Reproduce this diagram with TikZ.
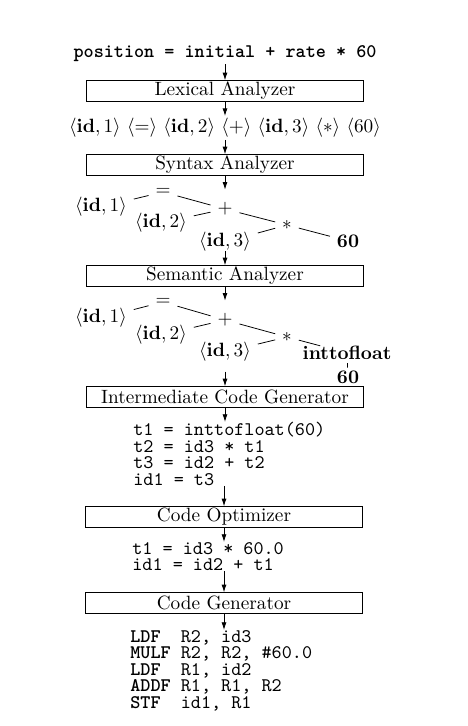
\documentclass[tikz,border=0pt]{standalone}
\usetikzlibrary{arrows.meta}

\tikzset{
  phase/.style={draw, line width=0.5pt, minimum width=144pt, minimum height=10.6pt, inner sep=0pt},
  arr/.style={-{Latex[length=4pt,width=2.6pt]}, line width=0.45pt},
  leaf/.style={inner sep=1.5pt},
  branch/.style={line width=0.4pt, shorten <=2pt, shorten >=2pt},
  code/.style={font=\ttfamily\fontsize{10}{8.6}\selectfont, align=left, anchor=north west, inner sep=0pt},
}
\newcommand{\tok}[1]{$\langle #1\rangle$}
\newcommand{\idn}[1]{$\langle\mathbf{id},#1\rangle$}

\begin{document}
\begin{tikzpicture}[x=0.52pt, y=-0.52pt]
    \useasboundingbox (0,0) rectangle (468,726);

    % Source statement
    \node (src) at (225,54) [font=\ttfamily\bfseries, inner sep=1pt] {position = initial + rate * 60};

    % Lexical analysis
    \node (lex) at (225,91) [phase] {Lexical Analyzer};
    \node (tokens) at (225,128) [inner sep=1pt] {\idn{1} \tok{=} \idn{2} \tok{+} \idn{3} \tok{\ast} \tok{60}};

    % Syntax analysis
    \node (syn) at (225,165) [phase] {Syntax Analyzer};
    \node (eqA) at (163,192) [leaf] {$=$};
    \node (idA1) at (101,207) [leaf] {\idn{1}};
    \node (plusA) at (225,209) [leaf] {$+$};
    \node (idA2) at (161,223) [leaf] {\idn{2}};
    \node (starA) at (287,225) [leaf] {$\ast$};
    \node (idA3) at (225,242) [leaf] {\idn{3}};
    \node (numA) at (348,241) [leaf] {$\mathbf{60}$};
    \draw[branch] (eqA) -- (idA1);
    \draw[branch] (eqA) -- (plusA);
    \draw[branch] (plusA) -- (idA2);
    \draw[branch] (plusA) -- (starA);
    \draw[branch] (starA) -- (idA3);
    \draw[branch] (starA) -- (numA);

    % Semantic analysis
    \node (sem) at (225,276) [phase] {Semantic Analyzer};
    \node (eqB) at (163,302) [leaf] {$=$};
    \node (idB1) at (101,318) [leaf] {\idn{1}};
    \node (plusB) at (225,320) [leaf] {$+$};
    \node (idB2) at (161,335) [leaf] {\idn{2}};
    \node (starB) at (287,337) [leaf] {$\ast$};
    \node (idB3) at (225,352) [leaf] {\idn{3}};
    \node (convB) at (347,353) [leaf] {\textbf{inttofloat}};
    \node (numB) at (348,377) [leaf] {$\mathbf{60}$};
    \draw[branch] (eqB) -- (idB1);
    \draw[branch] (eqB) -- (plusB);
    \draw[branch] (plusB) -- (idB2);
    \draw[branch] (plusB) -- (starB);
    \draw[branch] (starB) -- (idB3);
    \draw[branch] (starB) -- ([xshift=-12pt, yshift=-2pt]convB.north);
    \draw[line width=0.4pt] (convB) -- (numB);

    % Intermediate code
    \node (icg) at (225,397) [phase] {Intermediate Code Generator};
    \node (code1) at (133,422) [code] {t1 = inttofloat(60)\\
        t2 = id3 * t1\\
        t3 = id2 + t2\\
        id1 = t3};

    % Optimization
    \node (opt) at (224,517) [phase] {Code Optimizer};
    \node (code2) at (132,542) [code] {t1 = id3 * 60.0\\
        id1 = id2 + t1};

    % Code generation
    \node (gen) at (224,603) [phase] {Code Generator};
    \node (code3) at (130,630) [code] {\textbf{LDF}~~R2, id3\\
        \textbf{MULF} R2, R2, \#60.0\\
        \textbf{LDF}~~R1, id2\\
        \textbf{ADDF} R1, R1, R2\\
        \textbf{STF}~~id1, R1};

    % Arrows between the phases
    \draw[arr] (src) -- (lex);
    \draw[arr] (lex) -- (tokens);
    \draw[arr] (tokens) -- (syn);
    \draw[arr, shorten >=5pt] (syn) -- (plusA);
    \draw[arr, shorten <=-2pt] (idA3) -- (sem);
    \draw[arr, shorten >=5pt] (sem) -- (plusB);
    \draw[arr, shorten <=3.5pt] (idB3) -- (icg);
    \draw[arr] (icg) -- (icg.south |- code1.north);
    \draw[arr] (opt.north |- code1.south) -- (opt);
    \draw[arr] (opt) -- (opt.south |- code2.north);
    \draw[arr] (gen.north |- code2.south) -- (gen);
    \draw[arr] (gen) -- (gen.south |- code3.north);

\end{tikzpicture}
\end{document}
